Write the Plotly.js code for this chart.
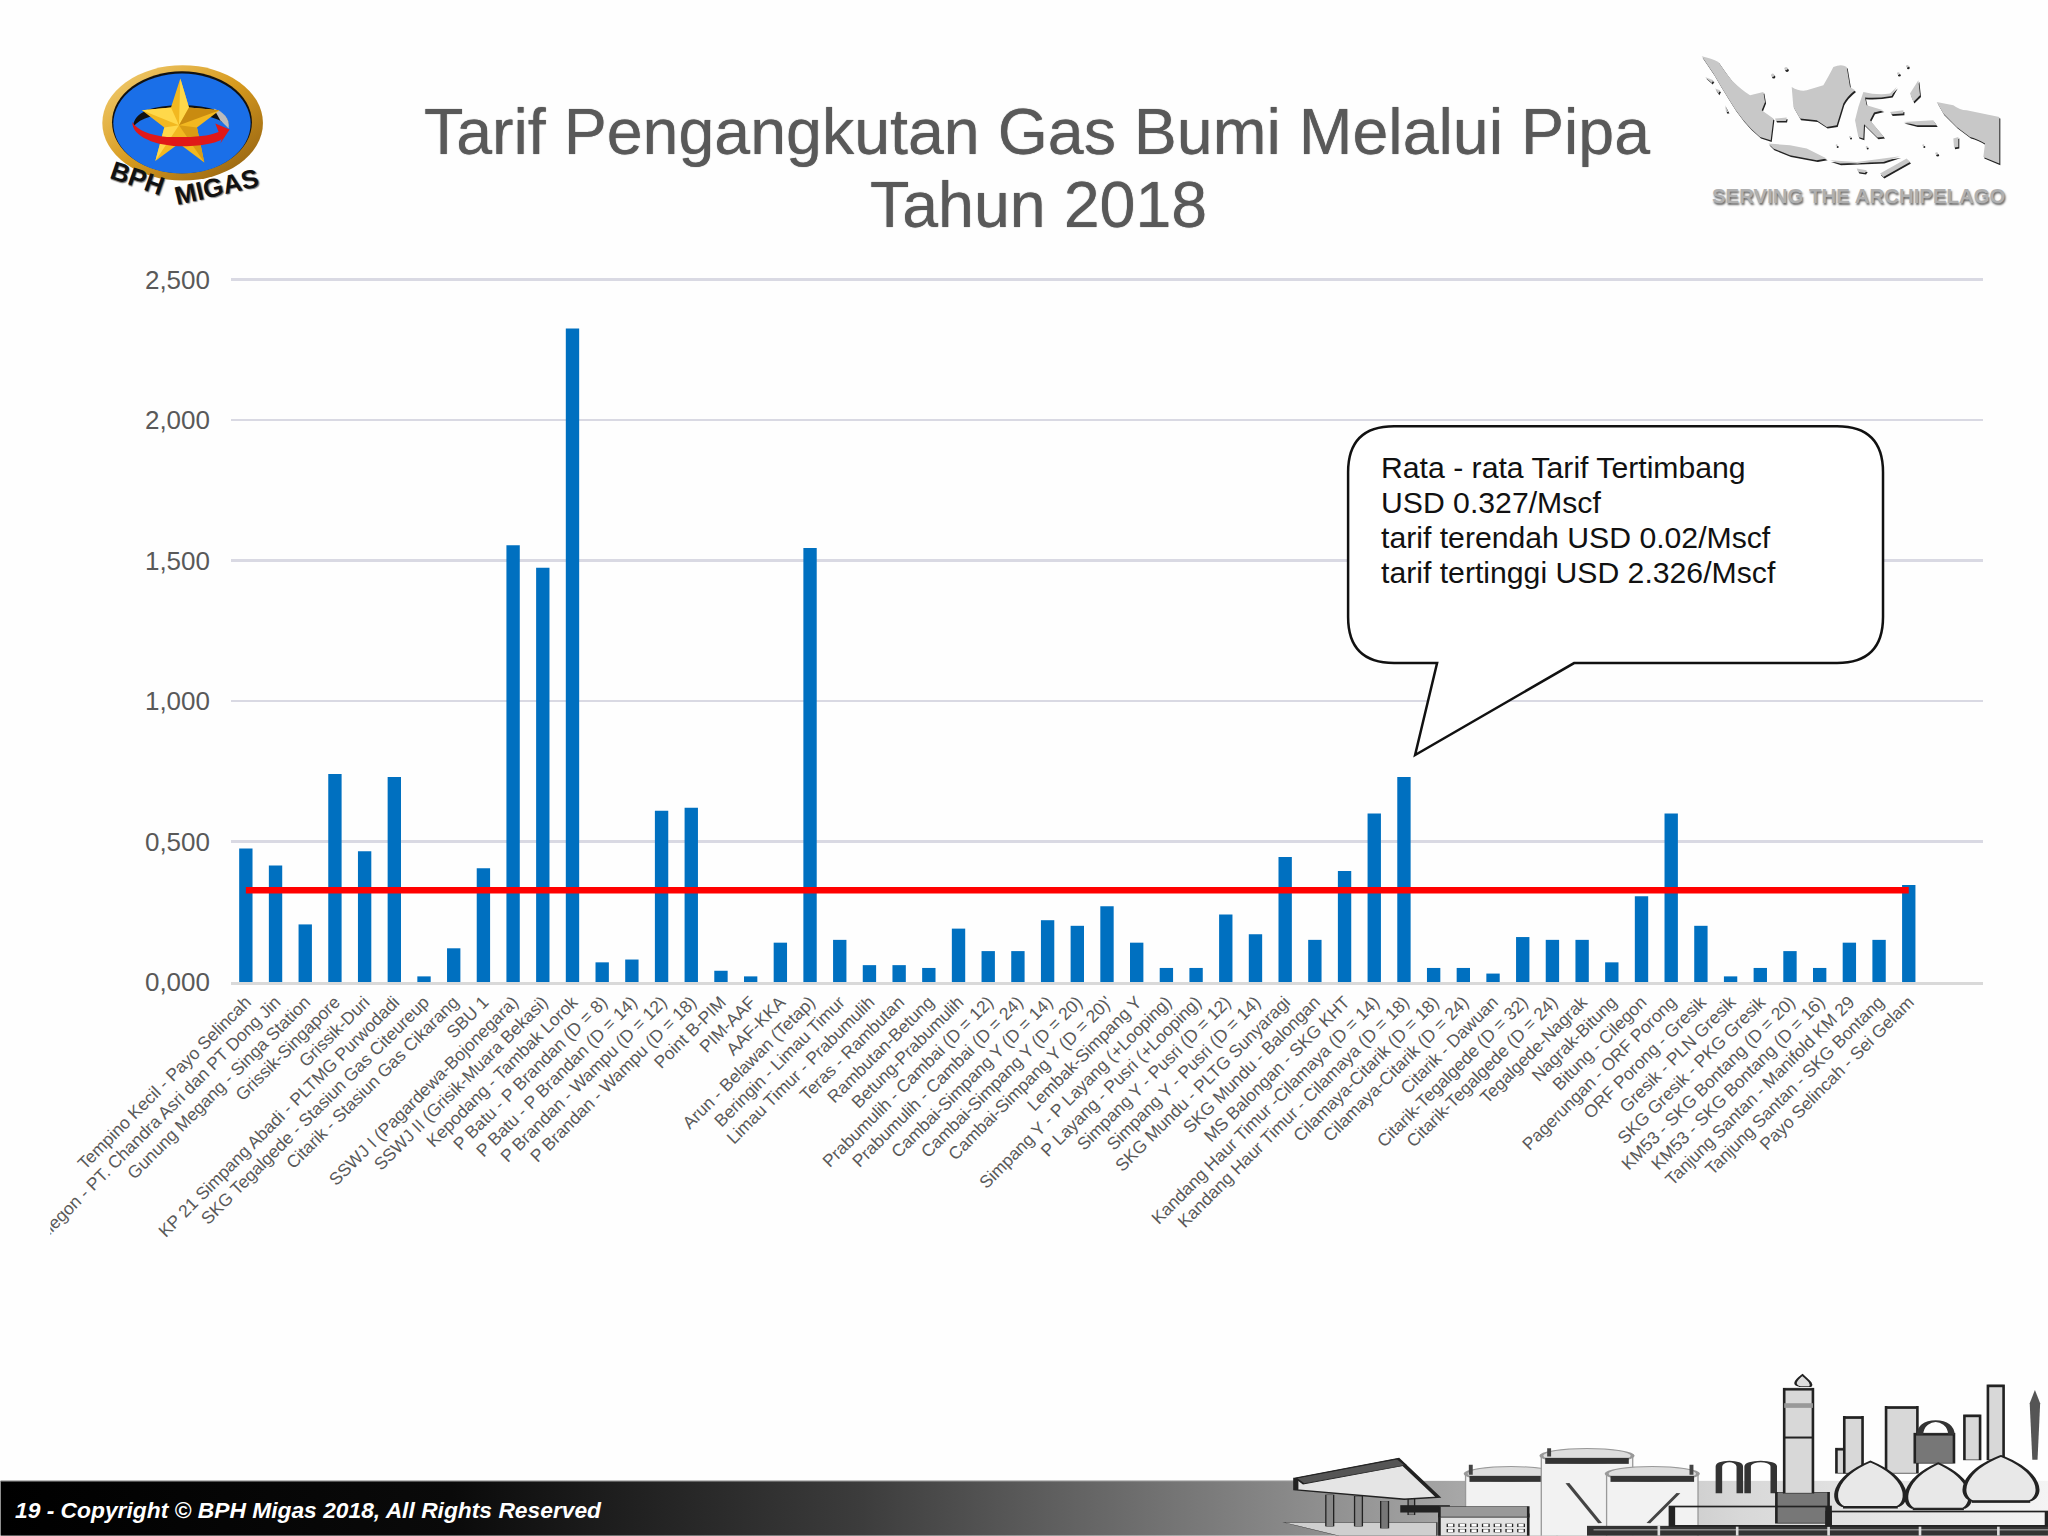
<!DOCTYPE html>
<html>
<head>
<meta charset="utf-8">
<script src="https://cdn.plot.ly/plotly-3.0.1.min.js"></script>
<style>html,body{margin:0;padding:0;background:#fefefe}</style>
</head>
<body>
<div id="chart" style="width:2048px;height:1536px"></div>
<script>
const categories = [
"Tempino Kecil - Payo Selincah","Cilegon - PT. Chandra Asri dan PT Dong Jin","Gunung Megang - Singa Station","Grissik-Singapore","Grissik-Duri",
"KP 21 Simpang Abadi - PLTMG Purwodadi","SKG Tegalgede - Stasiun Gas Citeureup","Citarik - Stasiun Gas Cikarang","SBU 1","SSWJ I (Pagardewa-Bojonegara)",
"SSWJ II (Grisik-Muara Bekasi)","Kepodang - Tambak Lorok","P Batu - P Brandan (D = 8)","P Batu - P Brandan (D = 14)","P Brandan - Wampu (D = 12)",
"P Brandan - Wampu (D = 18)","Point B-PIM","PIM-AAF","AAF-KKA","Arun - Belawan (Tetap)",
"Beringin - Limau Timur","Limau Timur - Prabumulih","Teras - Rambutan","Rambutan-Betung","Betung-Prabumulih",
"Prabumulih - Cambai (D = 12)","Prabumulih - Cambai (D = 24)","Cambai-Simpang Y (D = 14)","Cambai-Simpang Y (D = 20)","Cambai-Simpang Y (D = 20)'",
"Lembak-Simpang Y","Simpang Y - P Layang (+Looping)","P Layang - Pusri (+Looping)","Simpang Y - Pusri (D = 12)","Simpang Y - Pusri (D = 14)",
"SKG Mundu - PLTG Sunyaragi","SKG Mundu - Balongan","MS Balongan - SKG KHT","Kandang Haur Timur -Cilamaya (D = 14)","Kandang Haur Timur - Cilamaya (D = 18)",
"Cilamaya-Citarik (D = 18)","Cilamaya-Citarik (D = 24)","Citarik - Dawuan","Citarik-Tegalgede (D = 32)","Citarik-Tegalgede (D = 24)",
"Tegalgede-Nagrak","Nagrak-Bitung","Bitung - Cilegon","Pagerungan - ORF Porong","ORF Porong - Gresik",
"Gresik - PLN Gresik","SKG Gresik - PKG Gresik","KM53 - SKG Bontang (D = 20)","KM53 - SKG Bontang (D = 16)","Tanjung Santan - Manifold KM 29",
"Tanjung Santan - SKG Bontang","Payo Selincah - Sei Gelam"];
const tariffs = [
0.475,0.415,0.205,0.74,0.465,
0.73,0.02,0.12,0.405,1.555,
1.475,2.326,0.07,0.08,0.61,
0.62,0.04,0.02,0.14,1.545,
0.15,0.06,0.06,0.05,0.19,
0.11,0.11,0.22,0.20,0.27,
0.14,0.05,0.05,0.24,0.17,
0.445,0.15,0.395,0.60,0.73,
0.05,0.05,0.03,0.16,0.15,
0.15,0.07,0.305,0.60,0.20,
0.02,0.05,0.11,0.05,0.14,
0.15,0.345];
const averageTariff = 0.327;
const averageX = [categories[0], categories[categories.length-1]];
const averageY = [averageTariff, averageTariff];
const yTicks = [0,0.5,1,1.5,2,2.5];
const titleLines = ["Tarif Pengangkutan Gas Bumi Melalui Pipa","Tahun 2018"];
const calloutLines = ["Rata - rata Tarif Tertimbang","USD 0.327/Mscf","tarif terendah USD 0.02/Mscf","tarif tertinggi USD 2.326/Mscf"];
const footerText = "19 - Copyright © BPH Migas 2018, All Rights Reserved";

const W=2048,H=1536,mL=230.7,mR=65,mT=277.8,mB=554;
const pw=W-mL-mR,ph=H-mT-mB;
const PX=x=>(x-mL)/pw, PY=y=>1-(y-mT)/ph;
const FONT='"Liberation Sans", Arial, sans-serif';
const uri=s=>'data:image/svg+xml;charset=utf-8,'+encodeURIComponent(s);

const logoSvg=`<svg xmlns="http://www.w3.org/2000/svg" width="1200" height="600" viewBox="0 0 1200 600">
<defs><linearGradient id="g" x1="0" y1="0" x2="1" y2="1"><stop offset="0" stop-color="#f4d27a"/><stop offset=".5" stop-color="#d79a1e"/><stop offset="1" stop-color="#8a5a10"/></linearGradient></defs>
<ellipse cx="547" cy="278" rx="241" ry="173" fill="url(#g)"/>
<ellipse cx="545" cy="276" rx="210" ry="153" fill="#111"/>
<ellipse cx="545" cy="280" rx="206" ry="150" fill="#1a6fe8"/>
<path d="M398 290C400 240 470 222 560 225C640 228 690 250 685 290C660 262 600 248 540 248C470 248 420 262 398 290Z" fill="#111"/>
<path d="M640 235C670 245 690 265 685 295L660 270Z" fill="#bbb"/>
<polygon points="540,145 566,232 658,240 590,292 612,397 536,340 465,392 492,292 425,240 512,232" fill="#f2b820"/>
<polygon points="540,145 566,232 536,285" fill="#ffd84a"/><polygon points="425,240 512,232 536,285" fill="#ffd84a"/>
<polygon points="658,240 566,232 536,285" fill="#c98b10"/><polygon points="612,397 590,292 536,285" fill="#d99c14"/><polygon points="465,392 492,292 536,285" fill="#ffd84a"/>
<path d="M396 275C395 320 470 350 560 348C620 346 660 335 665 325L660 340L688 298L645 280L655 305C620 320 560 322 500 320C450 315 410 300 396 275Z" fill="#e01818"/>
</svg>`;

const mapShapes=`<path d="M155 78Q185 85 205 95Q225 125 245 150Q275 180 300 195L340 185L345 215L335 240L370 265L362 330L330 320Q300 295 280 270Q255 240 235 205Q210 165 190 130Z"/>
<path d="M425 170Q450 185 470 180L520 165Q540 130 550 110Q575 100 590 110L600 170L615 180Q590 200 580 220L560 285L530 290L500 270L450 265L430 230Z"/>
<path d="M640 185Q680 195 720 190L740 170L725 197Q680 205 645 202L650 225L700 240L672 247L660 270L702 320L682 322L642 282L640 325L625 320L615 270L625 230Z"/>
<path d="M355 340L420 345L470 355L530 385L500 390L420 375L370 355Z"/>
<path d="M540 390L620 395L750 378L700 395L570 400Z"/>
<path d="M690 430L770 385L780 395L700 440Z"/>
<path d="M860 215L910 225Q930 240 950 240L1048 260V400L1000 380L1005 340Q980 325 960 320L920 290L880 250Z"/>
<polygon points="780,190 805,150 810,195 790,215"/>
<polygon points="760,275 850,270 860,285 800,285"/>
<polygon points="720,245 760,240 760,250 725,252"/>
<polygon points="620,415 650,420 645,428 625,425"/>
<polygon points="910,325 925,320 925,350 912,352"/>
<polygon points="375,265 410,262 408,272 378,272"/>
<polygon points="165,140 190,150 185,158"/><polygon points="195,175 210,180 205,190"/><polygon points="225,225 235,245 228,245"/>
<circle cx="368" cy="135" r="5"/><circle cx="408" cy="115" r="5"/><circle cx="745" cy="130" r="4"/><circle cx="772" cy="108" r="4"/>
<circle cx="560" cy="345" r="3"/><circle cx="600" cy="320" r="3"/><circle cx="650" cy="350" r="3"/><circle cx="820" cy="345" r="3"/><circle cx="860" cy="370" r="4"/>`;
const mapSvg=`<svg xmlns="http://www.w3.org/2000/svg" width="1194" height="600" viewBox="0 0 1194 600">
<defs><filter id="s" x="-5%" y="-5%" width="110%" height="110%"><feGaussianBlur stdDeviation="2"/></filter></defs>
<g filter="url(#s)"><g transform="translate(3,5)" fill="#222">${mapShapes}</g><g fill="#c8c8c8">${mapShapes}</g></g></svg>`;

let windows='';
for(const y of [492,508]) for(let x=1108;x<1165;x+=9) windows+=`<rect x="${x}" y="${y}" width="5" height="9" fill="#fff" stroke="#222" stroke-width="1"/>`;
const tank=(x,y,w)=>`<rect x="${x}" y="${y}" width="${w}" height="${528-y}" fill="#f2f2f2" stroke="#999"/>
<ellipse cx="${x+w/2}" cy="${y}" rx="${w/2}" ry="22" fill="#ddd" stroke="#999" stroke-width="3"/>
<rect x="${x+3}" y="${y+6}" width="${w-6}" height="18" fill="#333"/>`;
const col=(x,y,w,bottom,fill)=>`<rect x="${x}" y="${y}" width="${w}" height="${bottom-y}" fill="${fill||'#d8d8d8'}" stroke="#222" stroke-width="2"/><rect x="${x}" y="${y}" width="${w}" height="7" fill="#222"/>`;
const dome=(cx,top,rx)=>`<path d="M${cx} ${top}C${cx+rx} ${top+50} ${cx+rx} ${top+120} ${cx+rx*.7} ${top+135}L${cx-rx*.7} ${top+135}C${cx-rx} ${top+120} ${cx-rx} ${top+50} ${cx} ${top}Z" fill="#e8e8e8" stroke="#222" stroke-width="3"/><rect x="${cx-rx*.7}" y="${top+135}" width="${rx*1.4}" height="6" fill="#222"/>`;
const footerSvg=`<svg xmlns="http://www.w3.org/2000/svg" width="1568" height="528" viewBox="0 0 1568 528" preserveAspectRatio="none">
<defs><linearGradient id="b" x1="0" y1="0" x2="1" y2="0"><stop offset="0" stop-color="#000"/><stop offset=".22" stop-color="#0a0a0a"/><stop offset=".42" stop-color="#3c3c3c"/><stop offset=".64" stop-color="#8d8d8d"/><stop offset=".85" stop-color="#d8d8d8"/><stop offset="1" stop-color="#f4f4f4"/></linearGradient></defs>
<rect x="0" y="363" width="1568" height="165" fill="url(#b)"/>
<rect x="0" y="362" width="1000" height="3" fill="#999"/>
<polygon points="983,488 1100,488 1100,528 1025,528" fill="#cfcfcf" stroke="#333"/>
<rect x="1015" y="405" width="6" height="95" fill="#888" stroke="#222"/><rect x="1037" y="410" width="6" height="90" fill="#888" stroke="#222"/><rect x="1057" y="425" width="6" height="80" fill="#777" stroke="#222"/><rect x="1078" y="405" width="5" height="60" fill="#888" stroke="#222"/>
<polygon points="992,355 1070,297 1101,412 1075,418 992,390" fill="#e5e5e5" stroke="#222" stroke-width="4"/>
<polygon points="992,355 1070,297 1076,316 998,372" fill="#555" stroke="#222" stroke-width="2"/>
<rect x="1072" y="436" width="38" height="22" fill="#222"/>
${tank(1122,342,70)}${tank(1180,288,70)}${tank(1230,342,70)}
<line x1="1126" y1="315" x2="1126" y2="345" stroke="#444" stroke-width="3"/><line x1="1186" y1="265" x2="1186" y2="290" stroke="#444" stroke-width="3"/><line x1="1295" y1="315" x2="1295" y2="345" stroke="#444" stroke-width="3"/>
<line x1="1200" y1="370" x2="1225" y2="490" stroke="#444" stroke-width="3"/><line x1="1285" y1="400" x2="1262" y2="490" stroke="#444" stroke-width="3"/>
<rect x="1102" y="462" width="68" height="66" fill="#e2e2e2" stroke="#222" stroke-width="2"/><polygon points="1102,440 1170,440 1170,472 1102,472" fill="#999" stroke="#222" stroke-width="2"/>
${windows}
<g fill="none" stroke="#333" stroke-width="5"><path d="M1316 400V320C1316 300 1332 300 1332 320V400"/><path d="M1338 400V320C1338 300 1358 300 1358 320V400"/></g>
<rect x="1360" y="398" width="40" height="92" fill="#777" stroke="#222" stroke-width="2"/>
${col(1366,85,22,400)}<path d="M1380 45C1375 60 1372 75 1378 80L1386 80C1388 70 1384 60 1380 45Z" fill="#ddd" stroke="#222" stroke-width="2"/>
<rect x="1366" y="130" width="22" height="14" fill="#999"/><rect x="1366" y="230" width="22" height="6" fill="#222"/>
${col(1406,265,18,340)}${col(1412,170,14,340)}${col(1444,140,24,340)}${col(1466,220,30,310,'#777')}
<path d="M1470 225C1470 170 1494 170 1494 225" fill="none" stroke="#333" stroke-width="5"/>
${col(1504,165,12,300)}${col(1522,75,12,300)}<polygon points="1558,90 1562,130 1560,300 1556,300 1554,130" fill="#555"/>
${dome(1432,305,30)}${dome(1484,310,28)}${dome(1532,288,32)}
<rect x="1215" y="498" width="353" height="30" fill="#333"/>
<g stroke="#ddd" stroke-width="2"><line x1="1220" y1="510" x2="1568" y2="510"/><line x1="1270" y1="498" x2="1270" y2="528"/><line x1="1330" y1="498" x2="1330" y2="528"/><line x1="1400" y1="498" x2="1400" y2="528"/><line x1="1470" y1="498" x2="1470" y2="528"/><line x1="1530" y1="498" x2="1530" y2="528"/></g>
<rect x="1280" y="440" width="120" height="58" fill="none" stroke="#222" stroke-width="5"/><rect x="1400" y="455" width="168" height="43" fill="none" stroke="#222" stroke-width="5"/>
</svg>`;

const imgAt=(src,x,y,w,h)=>({source:uri(src),xref:'paper',yref:'paper',x:PX(x),y:PY(y),sizex:w/pw,sizey:h/ph,xanchor:'left',yanchor:'top',sizing:'stretch',layer:'above'});

const R=46,x0=1348,x1=1883,y0=426,y1=663;
const p=(x,y)=>PX(x)+' '+PY(y);
const calloutPath=`M${p(x0+R,y0)} L${p(x1-R,y0)} Q${p(x1,y0)} ${p(x1,y0+R)} L${p(x1,y1-R)} Q${p(x1,y1)} ${p(x1-R,y1)} L${p(1574,y1)} L${p(1415,755)} L${p(1437,y1)} L${p(x0+R,y1)} Q${p(x0,y1)} ${p(x0,y1-R)} L${p(x0,y0+R)} Q${p(x0,y0)} ${p(x0+R,y0)} Z`;

const note=(text,x,y,size,color,opts)=>Object.assign({text,xref:'paper',yref:'paper',x:PX(x),y:PY(y),xanchor:'center',yanchor:'middle',showarrow:false,font:{family:FONT,size,color}},opts||{});
const calloutNotes=calloutLines.map((t,i)=>note(t,1379,467+i*35.2,30.2,'#111',{xanchor:'left',align:'left'}));
const titleFont={family:FONT,size:64.5,color:'#595959',shadow:'0 0 1px #595959'};

Plotly.newPlot('chart',[
 {type:'bar',x:categories,y:tariffs,marker:{color:'#0070C0'},width:0.45,hoverinfo:'x+y'},
 {type:'scatter',mode:'lines',x:averageX,y:averageY,line:{color:'#FF0000',width:6.5},hoverinfo:'y'}
],{
 width:W,height:H,showlegend:false,separators:',.',
 paper_bgcolor:'#fefefe',plot_bgcolor:'rgba(0,0,0,0)',
 margin:{l:mL,r:mR,t:mT,b:mB,pad:0,autoexpand:false},
 title:{text:titleLines[0],x:1037/W,xanchor:'center',y:1-131/H,yanchor:'middle',font:titleFont},
 xaxis:{type:'category',categoryorder:'array',categoryarray:categories,range:[-0.5,58.5],tickmode:'linear',tick0:0,dtick:1,tickangle:-45,ticks:'',
   tickfont:{family:FONT,size:17.5,color:'#595959'},showgrid:false,showline:true,linecolor:'#D9D9D9',linewidth:3,automargin:false,zeroline:false},
 yaxis:{range:[0,2.506],tickmode:'array',tickvals:yTicks,tickformat:'.3f',ticks:'',ticklabelstandoff:20,
   tickfont:{family:FONT,size:26,color:'#595959'},gridcolor:'#D9D9E3',gridwidth:2.5,showline:false,zeroline:false,automargin:false},
 shapes:[
  {type:'path',path:calloutPath,xref:'paper',yref:'paper',fillcolor:'#ffffff',line:{color:'#111',width:2.5},layer:'above'},
  {type:'rect',xref:'paper',yref:'paper',x0:PX(0),x1:PX(50),y0:PY(1270),y1:PY(1170),fillcolor:'#fefefe',line:{width:0},layer:'above'}
 ],
 images:[imgAt(logoSvg,0,30,400,200),imgAt(mapSvg,1650,30,398,200),imgAt(footerSvg,0,1360,2048,176)],
 annotations:calloutNotes.concat([
  note(titleLines[1],1038,205,64.5,'#595959',{font:titleFont}),
  note(footerText,13,1510,22.8,'#ffffff',{xanchor:'left',font:{family:FONT,size:22.8,color:'#ffffff',weight:700,style:'italic'}}),
  note('SERVING THE ARCHIPELAGO',1858,196,20.4,'#b0b0b0',{font:{family:FONT,size:20.4,color:'#b0b0b0',weight:700,shadow:'1px 2px 2px #666'}}),
  note('BPH',137,178,26,'#111',{textangle:19,font:{family:FONT,size:26,color:'#111',weight:700,shadow:'1px 1px 1px #777'}}),
  note('MIGAS',216,187,26,'#111',{textangle:-13,font:{family:FONT,size:26,color:'#111',weight:700,shadow:'1px 1px 1px #777'}})
 ])
},{staticPlot:true,displayModeBar:false});
</script>
</body>
</html>
